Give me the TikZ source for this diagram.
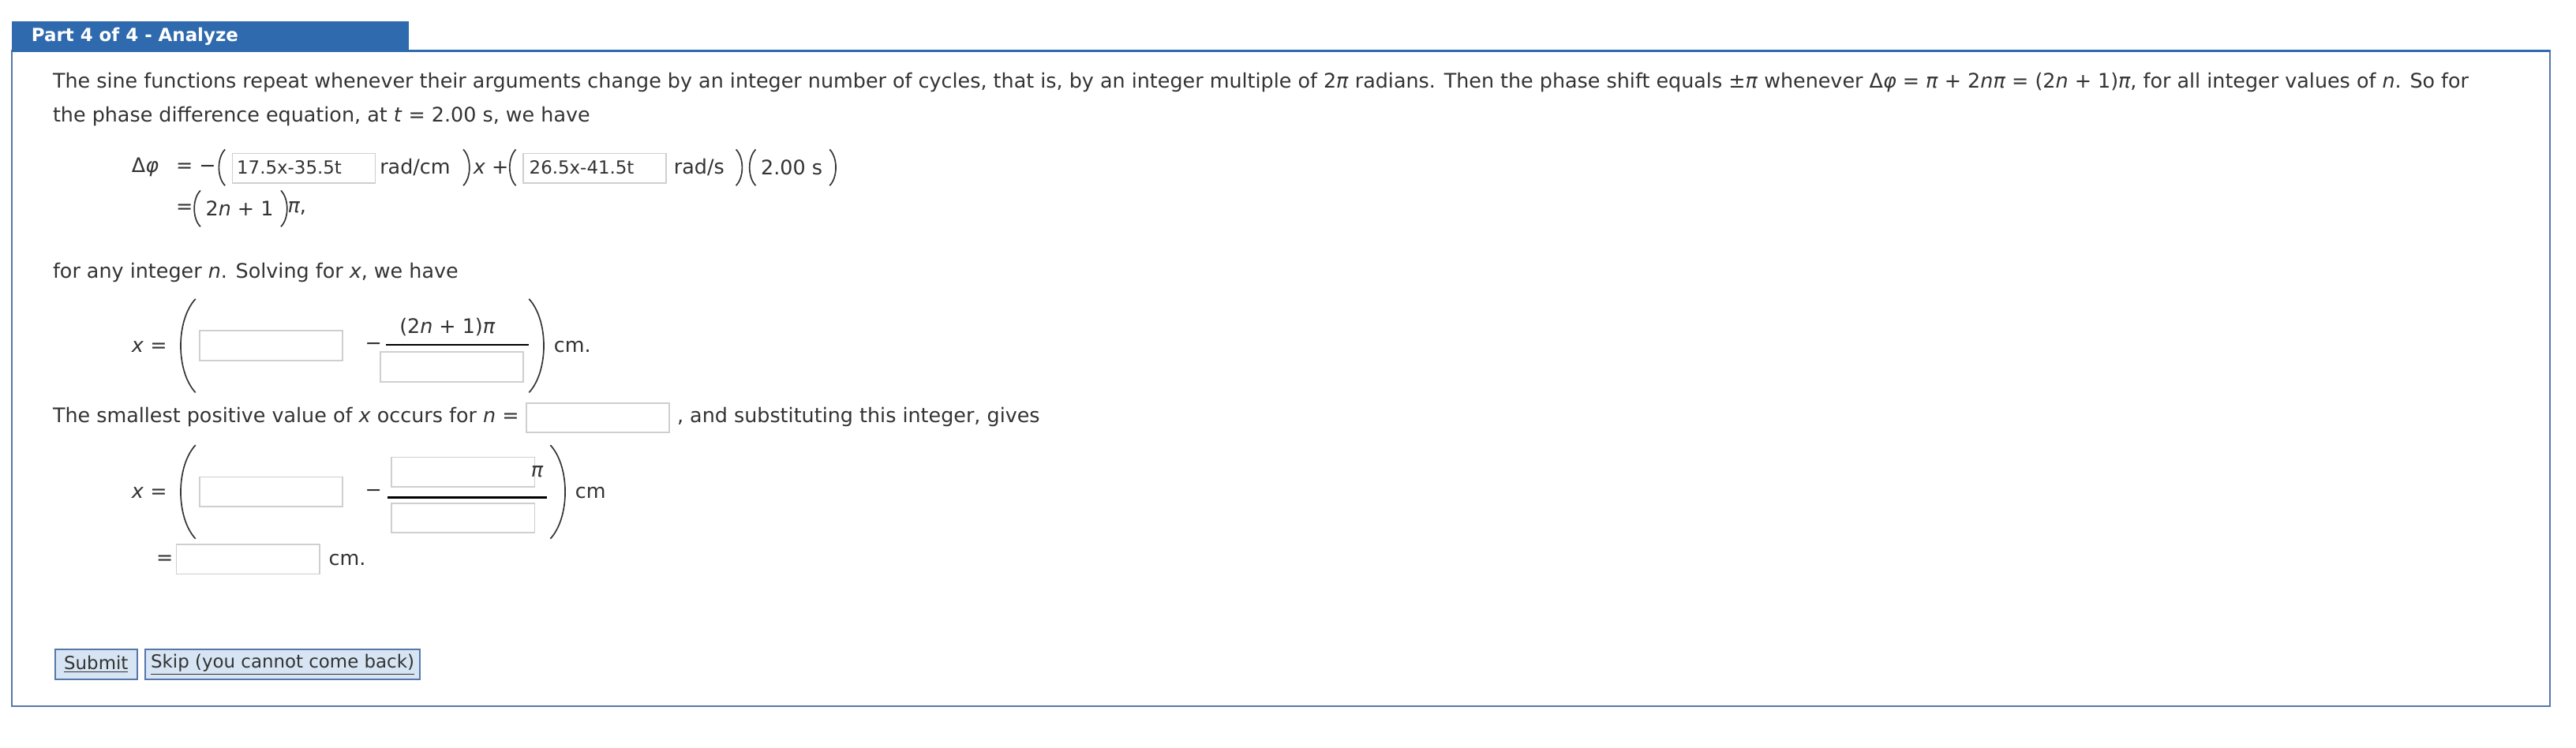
\documentclass[tikz,border=0pt]{standalone}
\usepackage{fontspec}
\setmainfont{DejaVu Sans}
\definecolor{hdr}{HTML}{2F6AAE}
\definecolor{frame}{HTML}{5578A8}
\definecolor{txt}{HTML}{333333}
\definecolor{boxb}{HTML}{CFCFCF}
\definecolor{btnf}{HTML}{D6E4F3}
\tikzset{
  t/.style={anchor=west,inner sep=0pt,text=txt,font=\fontsize{12.2}{14}\selectfont},
  inbox/.style={draw=boxb,line width=0.8pt,fill=white,inner sep=0pt,anchor=north west,minimum width=87pt,minimum height=18pt},
  btn/.style={draw=frame,line width=1pt,fill=btnf,inner sep=0pt,anchor=north west,minimum height=18pt,text=txt,font=\fontsize{11}{13}\selectfont},
  par/.style={txt,line width=0.8pt},
}
\newcommand{\ital}[1]{\textit{#1}}
\begin{document}
\begin{tikzpicture}[x=1pt,y=-1pt]
\useasboundingbox (0,0) rectangle (1568,455);
\fill[white] (0,0) rectangle (1568,455);
% frame
\draw[frame,line width=1pt] (7,31) rectangle (1552,430);
\fill[hdr] (7,13) rectangle (249,31);
\draw[hdr,line width=1.5pt] (7,31) -- (1552,31);
\node[t,text=white,font=\fontsize{11}{13}\bfseries\selectfont] (hd) at (19,22) {Part 4 of 4 - Analyze};
% paragraph
\node[t] (p1) at (32,50) {The sine functions repeat whenever their arguments change by an integer number of cycles, that is, by an integer multiple of 2\ital{π} radians. Then the phase shift equals ±\ital{π} whenever Δ\ital{φ} = \ital{π} + 2\ital{nπ} = (2\ital{n} + 1)\ital{π}, for all integer values of \ital{n}. So for};
\node[t] (p2) at (32,71) {the phase difference equation, at \ital{t} = 2.00 s, we have};
% row 1
\node[t] (dp) at (80,102) {Δ\ital{φ}};
\node[t] (eq1) at (107,102) {= −};
\draw[par] (137,91) .. controls (132,96) and (132,108) .. (137,113);
\node[inbox] (b1) at (141,93) {};
\node[t,font=\fontsize{11}{13}\selectfont] (v1) at (144,102) {17.5x-35.5t};
\node[t] (u1) at (231,102) {rad/cm};
\draw[par] (282,91) .. controls (287,96) and (287,108) .. (282,113);
\node[t] (xp) at (288,102) {\ital{x} +};
\draw[par] (314,91) .. controls (309,96) and (309,108) .. (314,113);
\node[inbox] (b2) at (318,93) {};
\node[t,font=\fontsize{11}{13}\selectfont] (v2) at (322,102) {26.5x-41.5t};
\node[t] (u2) at (410,102) {rad/s};
\draw[par] (448,91) .. controls (453,96) and (453,108) .. (448,113);
\draw[par] (460,91) .. controls (455,96) and (455,108) .. (460,113);
\node[t] (ts) at (463,102) {2.00 s};
\draw[par] (505,91) .. controls (510,96) and (510,108) .. (505,113);
% row 2
\node[t] (eq2) at (107,127) {=};
\draw[par] (122,116) .. controls (117,121) and (117,133) .. (122,138);
\node[t] (tn) at (125,127) {2\ital{n} + 1};
\draw[par] (171,116) .. controls (176,121) and (176,133) .. (171,138);
\node[t] (pi1) at (175,127) {\ital{π},};
\node[t] (p3) at (32,166) {for any integer \ital{n}. Solving for \ital{x}, we have};
% x row 1
\node[t] (x1) at (80,211) {\ital{x} =};
\draw[par] (119,182) .. controls (107,195) and (107,226) .. (119,239);
\node[inbox] (b3) at (121,201) {};
\node[t] (m1) at (222,211) {−};
\node[t] (num1) at (243,199) {(2\ital{n} + 1)\ital{π}};
\draw[black,line width=1.2pt] (235,210) -- (322,210);
\node[inbox] (b4) at (231,214) {};
\draw[par] (322,182) .. controls (334,195) and (334,226) .. (322,239);
\node[t] (cm1) at (337,211) {cm.};
% smallest
\node[t] (p4) at (32,254) {The smallest positive value of \ital{x} occurs for \ital{n} =};
\node[inbox] (b5) at (320,245) {};
\node[t] (p5) at (412,254) {, and substituting this integer, gives};
% x row 2
\node[t] (x2) at (80,300) {\ital{x} =};
\draw[par] (119,271) .. controls (107,284) and (107,315) .. (119,328);
\node[inbox] (b6) at (121,290) {};
\node[t] (m2) at (222,300) {−};
\node[inbox] (b7) at (238,278) {};
\node[t] (pi2) at (323,287) {\ital{π}};
\draw[black,line width=1.2pt] (236,303) -- (333,303);
\node[inbox] (b8) at (238,306) {};
\draw[par] (335,271) .. controls (347,284) and (347,315) .. (335,328);
\node[t] (cm2) at (350,300) {cm};
\node[t] (eq3) at (95,341) {=};
\node[inbox] (b9) at (107,331) {};
\node[t] (cm3) at (200,341) {cm.};
% buttons
\node[btn,minimum width=50pt] (sub) at (33,395) {\underline{Submit}};
\node[btn,minimum width=167pt] (skip) at (88,395) {\underline{Skip (you cannot come back)}};
\end{tikzpicture}
\end{document}
